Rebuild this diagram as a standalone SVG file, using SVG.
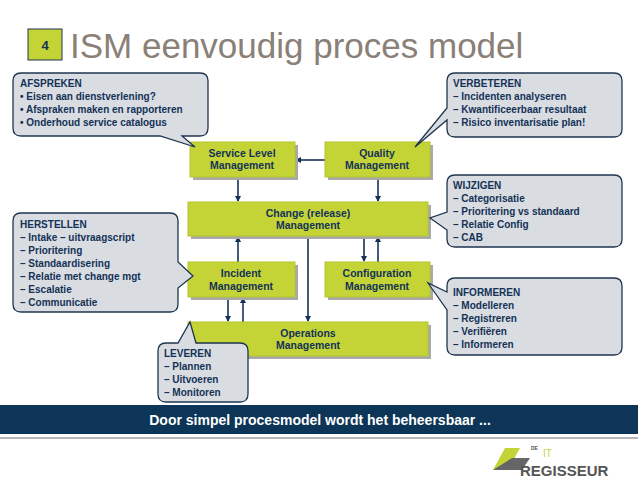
<svg xmlns="http://www.w3.org/2000/svg" width="638" height="479" viewBox="0 0 638 479">
<style>
.co{fill:#d9dce1;stroke:#1f3550;stroke-width:1.3}
.ct{font-family:"Liberation Sans",Arial,sans-serif;font-size:10px;font-weight:bold;fill:#143257}
.nd{fill:#c4d437;stroke:#b6c52c;stroke-width:1}
.sh{fill:#a9a9a9}
.nt{font-family:"Liberation Sans",Arial,sans-serif;font-size:10.5px;font-weight:bold;fill:#143257;text-anchor:middle}
.ar{stroke:#143257;stroke-width:1.6;fill:none;marker-end:url(#ah)}
</style>
<defs><marker id="ah" markerWidth="6" markerHeight="6" refX="5" refY="3" orient="auto" markerUnits="userSpaceOnUse"><path d="M0,0 L6,3 L0,6 z" fill="#143257"/></marker></defs>
<rect width="638" height="479" fill="#fff"/>
<rect x="28" y="29" width="34" height="31" fill="#c4d437" stroke="#1f3550" stroke-width="1"/>
<text x="45" y="50" font-family="Liberation Sans,Arial,sans-serif" font-size="13" font-weight="bold" fill="#143257" text-anchor="middle">4</text>
<text x="70" y="58" font-family="Liberation Sans,Arial,sans-serif" font-size="35" fill="#8a8078">ISM eenvoudig proces model</text>

<g id="connectors">
<line class="ar" x1="325" y1="160" x2="296" y2="160"/>
<line class="ar" x1="238" y1="177" x2="238" y2="201"/>
<line class="ar" x1="378" y1="177" x2="378" y2="201"/>
<line class="ar" x1="238" y1="262" x2="238" y2="237"/>
<line class="ar" x1="308" y1="237" x2="308" y2="321"/>
<line class="ar" x1="364" y1="237" x2="364" y2="261"/>
<line class="ar" x1="378" y1="262" x2="378" y2="237"/>
<line class="ar" x1="228" y1="297" x2="228" y2="321"/>
<line class="ar" x1="243" y1="322" x2="243" y2="298"/>
</g>

<g id="n-sl"><rect class="sh" x="193" y="145" width="105" height="35"/><rect class="nd" x="190" y="142" width="105" height="35"/><text class="nt" x="242" y="157">Service Level</text><text class="nt" x="242" y="169">Management</text></g>
<g id="n-q"><rect class="sh" x="328" y="145" width="105" height="35"/><rect class="nd" x="325" y="142" width="105" height="35"/><text class="nt" x="377" y="157">Quality</text><text class="nt" x="377" y="169">Management</text></g>
<g id="n-ch"><rect class="sh" x="191" y="205" width="240" height="34"/><rect class="nd" x="188" y="202" width="240" height="34"/><text class="nt" x="308" y="217">Change (release)</text><text class="nt" x="308" y="229">Management</text></g>
<g id="n-inc"><rect class="sh" x="191" y="265" width="107" height="35"/><rect class="nd" x="188" y="262" width="107" height="35"/><text class="nt" x="241" y="277">Incident</text><text class="nt" x="241" y="290">Management</text></g>
<g id="n-cfg"><rect class="sh" x="328" y="265" width="105" height="35"/><rect class="nd" x="325" y="262" width="105" height="35"/><text class="nt" x="377" y="277">Configuration</text><text class="nt" x="377" y="290">Management</text></g>
<g id="n-ops"><rect class="sh" x="191" y="325" width="240" height="34"/><rect class="nd" x="188" y="322" width="240" height="34"/><text class="nt" x="308" y="337">Operations</text><text class="nt" x="308" y="349">Management</text></g>

<g id="c-afs"><path class="co" d="M21,73 H200 Q208,73 208,81 V128 Q208,136 200,136 H182 L195,147 L160,136 H21 Q13,136 13,128 V81 Q13,73 21,73 Z"/>
<text class="ct" x="20" y="87">AFSPREKEN</text><text class="ct" x="20" y="100">• Eisen aan dienstverlening?</text><text class="ct" x="20" y="113">• Afspraken maken en rapporteren</text><text class="ct" x="20" y="126">• Onderhoud service catalogus</text></g>
<g id="c-verb"><path class="co" d="M455,73 H614 Q622,73 622,81 V129 Q622,137 614,137 H455 Q447,137 447,129 V120 L415,147 L447,108 V81 Q447,73 455,73 Z"/>
<text class="ct" x="453" y="87">VERBETEREN</text><text class="ct" x="453" y="100">– Incidenten analyseren</text><text class="ct" x="453" y="113">– Kwantificeerbaar resultaat</text><text class="ct" x="453" y="126">– Risico inventarisatie plan!</text></g>
<g id="c-wijz"><path class="co" d="M455,175 H614 Q622,175 622,183 V239 Q622,247 614,247 H455 Q447,247 447,239 V230 L430,218 L447,212 V183 Q447,175 455,175 Z"/>
<text class="ct" x="453" y="189">WIJZIGEN</text><text class="ct" x="453" y="202">– Categorisatie</text><text class="ct" x="453" y="215">– Prioritering vs standaard</text><text class="ct" x="453" y="228">– Relatie Config</text><text class="ct" x="453" y="241">– CAB</text></g>
<g id="c-hers"><path class="co" d="M21,213 H170 Q178,213 178,221 V262 L193,276 L178,288 V304 Q178,312 170,312 H21 Q13,312 13,304 V221 Q13,213 21,213 Z"/>
<text class="ct" x="20" y="228">HERSTELLEN</text><text class="ct" x="20" y="241">– Intake – uitvraagscript</text><text class="ct" x="20" y="254">– Prioritering</text><text class="ct" x="20" y="267">– Standaardisering</text><text class="ct" x="20" y="280">– Relatie met change mgt</text><text class="ct" x="20" y="293">– Escalatie</text><text class="ct" x="20" y="306">– Communicatie</text></g>
<g id="c-inf"><path class="co" d="M455,278 H614 Q622,278 622,286 V347 Q622,355 614,355 H455 Q447,355 447,347 V310 L428,283 L447,292 V286 Q447,278 455,278 Z"/>
<text class="ct" x="453" y="296">INFORMEREN</text><text class="ct" x="453" y="309">– Modelleren</text><text class="ct" x="453" y="322">– Registreren</text><text class="ct" x="453" y="335">– Verifiëren</text><text class="ct" x="453" y="348">– Informeren</text></g>
<g id="c-lev"><path class="co" d="M166,343 H178 L190,322 L196,343 H240 Q248,343 248,351 V394 Q248,402 240,402 H166 Q158,402 158,394 V351 Q158,343 166,343 Z"/>
<text class="ct" x="164" y="357">LEVEREN</text><text class="ct" x="164" y="370">– Plannen</text><text class="ct" x="164" y="383">– Uitvoeren</text><text class="ct" x="164" y="396">– Monitoren</text></g>

<rect x="0" y="405" width="638" height="29" fill="#0d3557"/>
<text x="320" y="425" font-family="Liberation Sans,Arial,sans-serif" font-size="14" font-weight="bold" fill="#fff" text-anchor="middle">Door simpel procesmodel wordt het beheersbaar ...</text>
<rect x="0" y="437" width="638" height="2" fill="#b5b5b5"/>
<path d="M505,448 L520,448 L508,470 L493,470 Z" fill="#c4d437"/>
<path d="M493,470 L512,458 L530,458 L522,470 Z" fill="#666"/>
<text x="531" y="450" font-family="Liberation Sans,Arial,sans-serif" font-size="5" font-weight="bold" fill="#555">DE</text>
<text x="543" y="457" font-family="Liberation Sans,Arial,sans-serif" font-size="10" fill="#c4d437">IT</text>
<text x="520" y="476" font-family="Liberation Sans,Arial,sans-serif" font-size="15" font-weight="bold" fill="#555">REGISSEUR</text>
</svg>
